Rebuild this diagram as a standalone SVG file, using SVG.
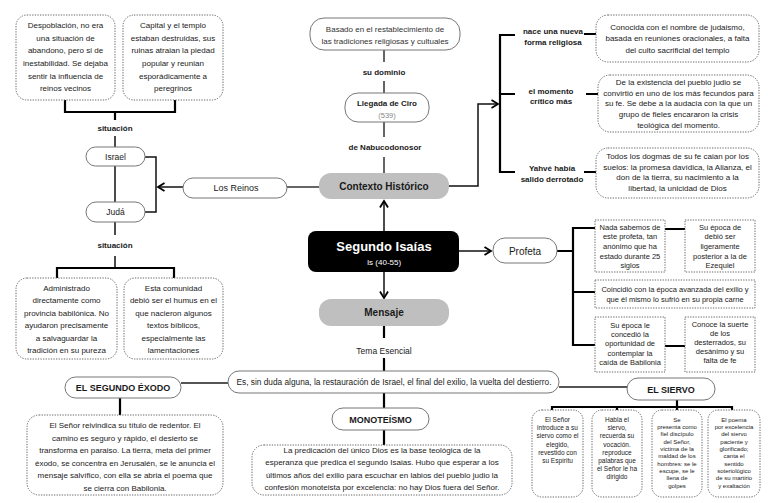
<svg xmlns="http://www.w3.org/2000/svg" width="768" height="503" viewBox="0 0 768 503">
<style>
text{font-family:"Liberation Sans",Arial,sans-serif;fill:#1a1a1a;text-anchor:middle}
.s8{font-size:8px}.s75{font-size:7.5px}.s65{font-size:6.5px}.s6{font-size:6px}
.lb{font-size:8px;font-weight:bold}
.pill{fill:#fff;stroke:#777;stroke-width:1}
.dot{fill:#fff;stroke:#666;stroke-width:1;stroke-dasharray:1.3 1.3}
.grey{fill:#bfbfbf}
.ln{stroke:#111;stroke-width:1.5;fill:none}
.gl{stroke:#555;stroke-width:1.8;fill:none}
.br{stroke:#000;stroke-width:2.2;fill:none}
.hd{font-size:9px;font-weight:bold}
</style>
<defs>
<marker id="ar" markerUnits="userSpaceOnUse" markerWidth="10" markerHeight="10" refX="8" refY="5" orient="auto">
<path d="M1.5,1 L8,5 L1.5,9" fill="none" stroke="#000" stroke-width="1.8"/>
</marker>
</defs>

<g id="connectors">
<path class="br" d="M65,100 V112 H175 V100 M115,112 V120"/>
<path class="ln" d="M115,136 V147"/>
<path class="ln" d="M115,166 V202"/>
<path class="ln" d="M145,157 H156 V212 H145"/>
<path class="ln" d="M183,187 H158" marker-end="url(#ar)"/>
<path class="gl" d="M287,187 H319"/>
<path class="ln" d="M115,222 V235 M115,256 V268"/>
<path class="br" d="M57,278 V268 H174 V278"/>
<path class="gl" d="M384,50 V62 M384,81 V93 M384,122 V137 M384,157 V173"/>
<path class="ln" d="M384,231 V201" marker-end="url(#ar)"/>
<path class="ln" d="M384,272 V298" marker-end="url(#ar)"/>
<path class="br" d="M384,326 V338 M384,358 V371"/>
<path class="ln" d="M459,251 H491" marker-end="url(#ar)"/>
<path class="br" d="M557,251 H573 M595,228 H573 V345 H595 M573,292 H595 M665,229 H685 M665,346 H685"/>
<path class="ln" d="M449,186 H478 V104 H498" marker-end="url(#ar)"/>
<path class="br" d="M515,35 H500 V172 H515 M500,94 H515 M584,34 H596 M586,94 H598 M584,172 H596"/>
<path class="gl" d="M228,383 H181"/>
<path class="br" d="M120,398 V415 M384,393 V408 M384,430 V445"/>
<path class="gl" d="M559,387 H627"/>
<path class="br" d="M677,400 V407 M552,412 V407 H732 V412 M617,407 V412 M677,407 V412"/>
</g>

<g id="n-despoblacion">
<rect class="dot" x="16" y="15" width="99" height="85" rx="11"/>
<text class="s8"><tspan x="65.5" y="28">Despoblación, no era</tspan><tspan x="65.5" y="40.5">una situación de</tspan><tspan x="65.5" y="53">abandono, pero si de</tspan><tspan x="65.5" y="66">inestabilidad. Se dejaba</tspan><tspan x="65.5" y="78.5">sentir la influencia de</tspan><tspan x="65.5" y="91">reinos vecinos</tspan></text>
</g>
<g id="n-capital">
<rect class="dot" x="123" y="15" width="100" height="85" rx="11"/>
<text class="s8"><tspan x="173" y="28">Capital y el templo</tspan><tspan x="173" y="40.5">estaban destruidas, sus</tspan><tspan x="173" y="53">ruinas atraian la piedad</tspan><tspan x="173" y="66">popular y reunian</tspan><tspan x="173" y="78.5">esporádicamente a</tspan><tspan x="173" y="91">peregrinos</tspan></text>
</g>
<text class="lb" x="115" y="131">situación</text>
<g id="n-israel">
<rect class="pill" x="86" y="147" width="59" height="19" rx="9.5"/>
<text style="font-size:8.5px" x="115.5" y="159.5">Israel</text>
</g>
<g id="n-juda">
<rect class="pill" x="86" y="202" width="59" height="20" rx="10"/>
<text style="font-size:8.5px" x="115.5" y="215">Judá</text>
</g>
<g id="n-reinos">
<rect class="pill" x="183" y="178" width="104" height="20" rx="10"/>
<text style="font-size:9px" x="236" y="191">Los Reinos</text>
</g>
<text class="lb" x="115" y="248">situación</text>
<g id="n-administrado">
<rect class="dot" x="16" y="278" width="101" height="81" rx="11"/>
<text class="s8"><tspan x="66.5" y="290.5">Administrado</tspan><tspan x="66.5" y="303">directamente como</tspan><tspan x="66.5" y="315.5">provincia babilónica. No</tspan><tspan x="66.5" y="328">ayudaron precisamente</tspan><tspan x="66.5" y="340.5">a salvaguardar la</tspan><tspan x="66.5" y="353">tradición en su pureza</tspan></text>
</g>
<g id="n-comunidad">
<rect class="dot" x="124" y="278" width="99" height="81" rx="11"/>
<text class="s8"><tspan x="173.5" y="290.5">Esta comunidad</tspan><tspan x="173.5" y="303">debió ser el humus en el</tspan><tspan x="173.5" y="315.5">que nacieron algunos</tspan><tspan x="173.5" y="328">textos bíblicos,</tspan><tspan x="173.5" y="340.5">especialmente las</tspan><tspan x="173.5" y="353">lamentaciones</tspan></text>
</g>

<g id="n-basado">
<rect class="pill" x="310" y="18" width="150" height="32" rx="14"/>
<text class="s8" style="fill:#333"><tspan x="385" y="31.5">Basado en el restablecimiento de</tspan><tspan x="385" y="44">las tradiciones religiosas y cultuales</tspan></text>
</g>
<text class="lb" x="384" y="75">su dominio</text>
<g id="n-ciro">
<rect class="pill" x="345" y="93" width="84" height="29" rx="13"/>
<text class="lb" x="387" y="106">Llegada de Ciro</text>
<text style="font-size:7.5px;fill:#888" x="387" y="117.5">(539)</text>
</g>
<text class="lb" x="385" y="150">de Nabucodonosor</text>
<g id="n-contexto">
<rect class="grey" x="319" y="173" width="130" height="26" rx="12"/>
<text style="font-size:10px;font-weight:bold" x="384" y="189.5">Contexto Histórico</text>
</g>
<g id="n-segundo">
<rect x="308" y="231" width="151" height="41" rx="8" fill="#000"/>
<text style="font-size:13px;font-weight:bold;fill:#fff" x="384" y="251">Segundo Isaías</text>
<text style="font-size:8px;fill:#fff" x="384" y="265">Is (40-55)</text>
</g>
<g id="n-mensaje">
<rect class="grey" x="319" y="299" width="130" height="27" rx="12"/>
<text style="font-size:10px;font-weight:bold" x="384" y="316">Mensaje</text>
</g>
<text style="font-size:8.5px" x="384" y="354">Tema Esencial</text>

<text class="lb"><tspan x="553" y="33.5">nace una nueva</tspan><tspan x="553" y="45">forma religiosa</tspan></text>
<text class="lb"><tspan x="551" y="93.5">el momento</tspan><tspan x="551" y="104">crítico más</tspan></text>
<text class="lb"><tspan x="552" y="170.5">Yahvé había</tspan><tspan x="552" y="181.5">salido derrotado</tspan></text>
<g id="n-judaismo">
<rect class="dot" x="596" y="15" width="163" height="47" rx="12"/>
<text class="s8"><tspan x="677.5" y="30">Conocida con el nombre de judaismo,</tspan><tspan x="677.5" y="41.3">basada en reuniones oracionales, a falta</tspan><tspan x="677.5" y="52.5">del culto sacrificial del templo</tspan></text>
</g>
<g id="n-existencia">
<rect class="dot" x="598" y="75" width="161" height="57" rx="12"/>
<text class="s8"><tspan x="678.5" y="85">De la existencia del pueblo judio se</tspan><tspan x="678.5" y="95.7">convirtió en uno de los más fecundos para</tspan><tspan x="678.5" y="106.4">su fe. Se debe a la audacia con la que un</tspan><tspan x="678.5" y="117.1">grupo de fieles encararon la crisis</tspan><tspan x="678.5" y="127.8">teológica del momento.</tspan></text>
</g>
<g id="n-dogmas">
<rect class="dot" x="596" y="148" width="163" height="50" rx="12"/>
<text class="s8"><tspan x="677.5" y="159">Todos los dogmas de su fe caian por los</tspan><tspan x="677.5" y="169.5">suelos: la promesa davídica, la Alianza, el</tspan><tspan x="677.5" y="180">don de la tierra, su nacimiento a la</tspan><tspan x="677.5" y="190.5">libertad, la unicidad de Dios</tspan></text>
</g>

<g id="n-profeta">
<rect class="pill" x="493" y="238" width="64" height="25" rx="12"/>
<text style="font-size:10px" x="525" y="254.5">Profeta</text>
</g>
<g id="n-nada">
<rect class="dot" x="595" y="220" width="70" height="52"/>
<text class="s75"><tspan x="630" y="229.5">Nada sabemos de</tspan><tspan x="630" y="239.2">este profeta, tan</tspan><tspan x="630" y="248.9">anónimo que ha</tspan><tspan x="630" y="258.6">estado durante 25</tspan><tspan x="630" y="268.3">siglos</tspan></text>
</g>
<g id="n-epoca">
<rect class="dot" x="685" y="220" width="70" height="52"/>
<text class="s75"><tspan x="720" y="229.5">Su época de</tspan><tspan x="720" y="239.2">debió ser</tspan><tspan x="720" y="248.9">ligeramente</tspan><tspan x="720" y="258.6">posterior a la de</tspan><tspan x="720" y="268.3">Ezequiel</tspan></text>
</g>
<g id="n-coincidio">
<rect class="dot" x="595" y="280" width="160" height="28"/>
<text class="s75"><tspan x="675" y="292">Coincidió con la época avanzada del exilio y</tspan><tspan x="675" y="302">que él mismo lo sufrió en su propia carne</tspan></text>
</g>
<g id="n-concedio">
<rect class="dot" x="595" y="317" width="70" height="55"/>
<text class="s75"><tspan x="630" y="328">Su época le</tspan><tspan x="630" y="337.2">concedió la</tspan><tspan x="630" y="346.4">oportunidad de</tspan><tspan x="630" y="355.6">contemplar la</tspan><tspan x="630" y="364.8">caída de Babilonia</tspan></text>
</g>
<g id="n-suerte">
<rect class="dot" x="685" y="317" width="70" height="55"/>
<text class="s75"><tspan x="720" y="326.5">Conoce la suerte</tspan><tspan x="720" y="335.7">de los</tspan><tspan x="720" y="344.9">desterrados, su</tspan><tspan x="720" y="354.1">desánimo y su</tspan><tspan x="720" y="363.3">falta de fe</tspan></text>
</g>

<g id="n-restauracion">
<rect class="pill" x="228" y="371" width="331" height="22" rx="11"/>
<text style="font-size:8.3px" x="394" y="385">Es, sin duda alguna, la restauración de Israel, el final del exilio, la vuelta del destierro.</text>
</g>
<g id="n-exodo">
<rect class="pill" x="65" y="377" width="116" height="21" rx="10.5"/>
<text class="hd" x="123" y="391">EL SEGUNDO ÉXODO</text>
</g>
<g id="n-exodo-txt">
<rect class="dot" x="27" y="415" width="196" height="80" rx="12"/>
<text class="s8"><tspan x="125" y="428">El Señor reivindica su título de redentor. El</tspan><tspan x="125" y="440.5">camino es seguro y rápido, el desierto se</tspan><tspan x="125" y="453">transforma en paraiso. La tierra, meta del primer</tspan><tspan x="125" y="465.5">éxodo, se concentra en Jerusalén, se le anuncia el</tspan><tspan x="125" y="478">mensaje salvífico, con ella se abria el poema que</tspan><tspan x="125" y="490.5">se cierra con Babilonia.</tspan></text>
</g>
<g id="n-monoteismo">
<rect class="pill" x="332" y="408" width="97" height="22" rx="11"/>
<text class="hd" x="380.5" y="422.5">MONOTEÍSMO</text>
</g>
<g id="n-monoteismo-txt">
<rect class="dot" x="252" y="445" width="260" height="50" rx="12"/>
<text class="s8"><tspan x="382" y="452.8">La predicación del único Dios es la base teológica de la</tspan><tspan x="382" y="465">esperanza que predica el segundo Isaias. Hubo que esperar a los</tspan><tspan x="382" y="477.5">últimos años del exilio para escuchar en labios del pueblo judio la</tspan><tspan x="382" y="489.8">confesión monoteista por excelencia: no hay Dios fuera del Señor.</tspan></text>
</g>
<g id="n-siervo">
<rect class="pill" x="627" y="378" width="88" height="22" rx="11"/>
<text class="hd" x="671" y="392.5">EL SIERVO</text>
</g>
<g id="n-siervo1">
<rect class="dot" x="532" y="410" width="51" height="87" rx="10"/>
<text class="s65"><tspan x="557.5" y="422">El Señor</tspan><tspan x="557.5" y="430.2">introduce a su</tspan><tspan x="557.5" y="438.4">siervo como el</tspan><tspan x="557.5" y="446.6">elegido,</tspan><tspan x="557.5" y="454.8">revestido con</tspan><tspan x="557.5" y="463">su Espíritu</tspan></text>
</g>
<g id="n-siervo2">
<rect class="dot" x="592" y="410" width="50" height="87" rx="10"/>
<text class="s65"><tspan x="617" y="422">Habla el</tspan><tspan x="617" y="430.2">siervo,</tspan><tspan x="617" y="438.4">recuerda su</tspan><tspan x="617" y="446.6">vocación.</tspan><tspan x="617" y="454.8">reproduce</tspan><tspan x="617" y="463">palabras que</tspan><tspan x="617" y="471.2">el Señor le ha</tspan><tspan x="617" y="479.4">dirigido</tspan></text>
</g>
<g id="n-siervo3">
<rect class="dot" x="652" y="410" width="50" height="87" rx="10"/>
<text class="s6"><tspan x="677" y="421.5">Se</tspan><tspan x="677" y="428.9">presenta como</tspan><tspan x="677" y="436.2">fiel discípulo</tspan><tspan x="677" y="443.6">del Señor,</tspan><tspan x="677" y="450.9">víctima de la</tspan><tspan x="677" y="458.3">maldad de los</tspan><tspan x="677" y="465.6">hombres: se le</tspan><tspan x="677" y="473">escupe, se le</tspan><tspan x="677" y="480.3">llena de</tspan><tspan x="677" y="487.7">golpes</tspan></text>
</g>
<g id="n-siervo4">
<rect class="dot" x="708" y="410" width="52" height="87" rx="10"/>
<text class="s6"><tspan x="734" y="421.5">El poema</tspan><tspan x="734" y="428.9">por excelencia</tspan><tspan x="734" y="436.2">del siervo</tspan><tspan x="734" y="443.6">paciente y</tspan><tspan x="734" y="450.9">glorificado;</tspan><tspan x="734" y="458.3">canta el</tspan><tspan x="734" y="465.6">sentido</tspan><tspan x="734" y="473">soteriológico</tspan><tspan x="734" y="480.3">de su martirio</tspan><tspan x="734" y="487.7">y exaltación</tspan></text>
</g>
</svg>
